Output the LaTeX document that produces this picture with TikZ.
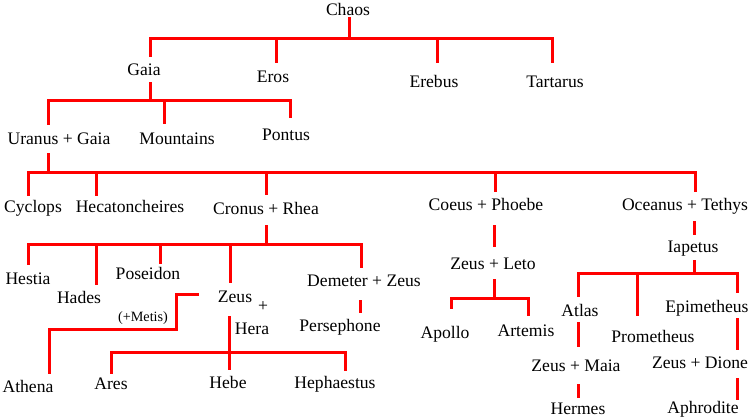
\documentclass[tikz,border=0pt]{standalone}
\usepackage{fontspec}
\setmainfont{Liberation Serif}

\begin{document}
\begin{tikzpicture}
[x=1pt,y=-1pt,%
  lineDecorate/.style={draw=red,line width=3pt},%
  nodeDecorate/.style={anchor=base,inner sep=0pt,text height=12pt,text depth=4pt,%
    font=\fontsize{17.6}{20}\selectfont},%
  noteDecorate/.style={anchor=base,inner sep=0pt,font=\fontsize{14.2}{16}\selectfont}]
\useasboundingbox (0,0) rectangle (750,420);
%% nodes or names
\foreach \nodename/\x/\y/\name in {
  %% first generations
  chaos/348/16/Chaos, gaia/144/75/Gaia, eros/273/82/Eros, erebus/434/88/Erebus,
  tartarus/555/88/Tartarus, uranus/59/144/Uranus + Gaia, mountains/177/144/Mountains,
  pontus/286/140/Pontus,
  %% titans and the like
  cyclops/33/212/Cyclops, hecaton/130/212/Hecatoncheires, cronus/266/214/Cronus + Rhea,
  coeus/486/210/Coeus + Phoebe, oceanus/685/210/Oceanus + Tethys,
  %% children of Cronus
  hestia/28/284/Hestia, hades/79/303/Hades, poseidon/148/279/Poseidon,
  zeus/235/302/Zeus, zeusplus/263/311/+, hera/252/334/Hera,
  demeter/364/286/Demeter + Zeus, persephone/340/331/Persephone,
  athena/28/392/Athena, ares/111/389/Ares, hebe/228/388/Hebe,
  hephaestus/335/388/Hephaestus,
  %% the other branches
  zeusleto/493/269/Zeus + Leto, apollo/445/338/Apollo, artemis/526/336/Artemis,
  iapetus/693/252/Iapetus, atlas/580/316/Atlas, prometheus/653/342/Prometheus,
  epimetheus/707/312/Epimetheus, zeusmaia/576/371/Zeus + Maia,
  zeusdione/700/368/Zeus + Dione, hermes/578/414/Hermes, aphrodite/703/413/Aphrodite}
{
  \node (\nodename) at (\x,\y) [nodeDecorate] {\name};
}
\node (metis) at (143,321) [noteDecorate] {(+Metis)};
%% forks
\coordinate (chaosFork) at ([xshift=1,yshift=-18]chaos.south);
\draw[lineDecorate] ([xshift=1,yshift=3]chaos.south) -- (chaosFork);
\foreach \child/\dx/\dy in {gaia/6/6, eros/3/7, erebus/3/13, tartarus/-3/13}
  \draw[lineDecorate] (chaosFork) -| ([xshift=\dx,yshift=\dy]\child.north);

\coordinate (gaiaFork) at ([xshift=6,yshift=-21]gaia.south);
\draw[lineDecorate] ([xshift=6,yshift=-3]gaia.south) -- (gaiaFork);
\foreach \child/\dx/\dy in {uranus/-11/7, mountains/-13/8, pontus/4/10}
  \draw[lineDecorate] (gaiaFork) -| ([xshift=\dx,yshift=\dy]\child.north);

\coordinate (uranusFork) at ([xshift=-11,yshift=-24]uranus.south);
\draw[lineDecorate] ([xshift=-11,yshift=-5]uranus.south) -- (uranusFork);
\foreach \child/\dx/\dy in {cyclops/-5/4, hecaton/-34/4, cronus/0/7, coeus/9/6, oceanus/10/6}
  \draw[lineDecorate] (uranusFork) -| ([xshift=\dx,yshift=\dy]\child.north);

\coordinate (cronusFork) at ([yshift=-26]cronus.south);
\draw[lineDecorate] ([yshift=-7]cronus.south) -- (cronusFork);
\foreach \child/\dx/\dy in {hestia/0/7, hades/17/6, poseidon/12/3, zeus/-5/7, demeter/-3/6}
  \draw[lineDecorate] (cronusFork) -| ([xshift=\dx,yshift=\dy]\child.north);

\coordinate (heraFork) at ([xshift=-6,yshift=-46]zeus.south);
\draw[lineDecorate] ([xshift=-6,yshift=-10]zeus.south) -- (heraFork);
\foreach \child/\dx/\dy in {ares/0/3, hebe/1/6, hephaestus/10/5}
  \draw[lineDecorate] (heraFork) -| ([xshift=\dx,yshift=\dy]\child.north);

\coordinate (letoFork) at ([xshift=1,yshift=-25]zeusleto.south);
\draw[lineDecorate] ([xshift=1,yshift=-6]zeusleto.south) -- (letoFork);
\foreach \child/\dx/\dy in {apollo/6/17, artemis/2/8}
  \draw[lineDecorate] (letoFork) -| ([xshift=\dx,yshift=\dy]\child.north);

\coordinate (iapetusFork) at ([xshift=1,yshift=-17]iapetus.south);
\draw[lineDecorate] ([xshift=1,yshift=-4]iapetus.south) -- (iapetusFork);
\foreach \child/\dx/\dy in {atlas/-2/7, prometheus/-16/14, epimetheus/30/7}
  \draw[lineDecorate] (iapetusFork) -| ([xshift=\dx,yshift=\dy]\child.north);

%% single lines
\draw[lineDecorate] ([xshift=8,yshift=-11]coeus.south) -- ([xshift=1,yshift=10]zeusleto.north);
\draw[lineDecorate] ([xshift=9,yshift=-7]oceanus.south) -- ([xshift=1,yshift=5]iapetus.north);
\draw[lineDecorate] ([xshift=-4,yshift=-10]demeter.south) -- ([xshift=20,yshift=6]persephone.north);
\draw[lineDecorate] ([xshift=-2,yshift=-2]atlas.south) -- ([xshift=2,yshift=12]zeusmaia.north);
\draw[lineDecorate] ([xshift=2,yshift=-9]zeusmaia.south) -- ([yshift=4]hermes.north);
\draw[lineDecorate] ([xshift=30,yshift=-2]epimetheus.south) -- ([xshift=37,yshift=6]zeusdione.north);
\draw[lineDecorate] ([xshift=37,yshift=-6]zeusdione.south) -- ([xshift=34,yshift=1]aphrodite.north);
%% Zeus and Metis
\draw[lineDecorate] ([xshift=-19,yshift=4]zeus.west) -- ++(-22,0) -- ++(0,35)
  -| ([xshift=21,yshift=6]athena.north);
\end{tikzpicture}
\end{document}
